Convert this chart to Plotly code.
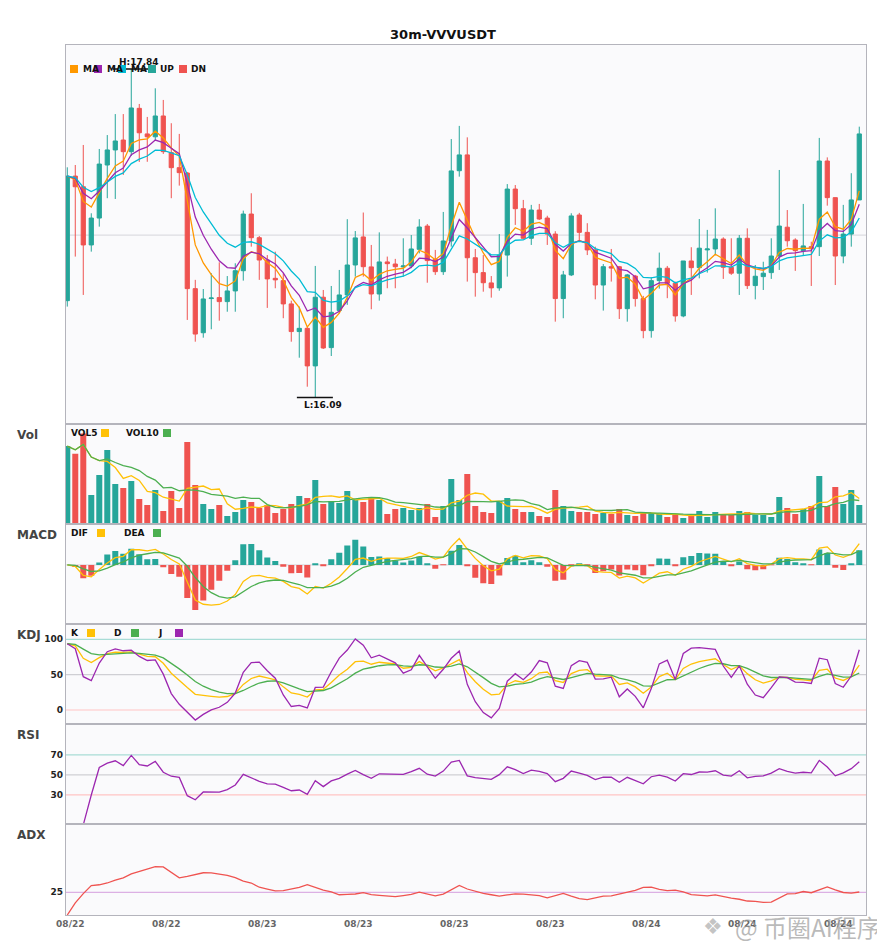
import pandas as pd
import plotly.graph_objects as go
from plotly.subplots import make_subplots

symbol = "VVVUSDT"
interval = "30m"
start_time = "2025-08-22 12:00"

opens = [16.597, 17.250, 17.194, 16.889, 17.030, 17.308, 17.387, 17.439, 17.378, 17.605,
         17.471, 17.456, 17.565, 17.373, 17.294, 17.266, 16.660, 16.429, 16.608, 16.613,
         16.592, 16.648, 16.754, 17.051, 16.927, 16.810, 16.714, 16.702, 16.580, 16.435,
         16.452, 16.255, 16.615, 16.351, 16.545, 16.627, 16.784, 16.931, 16.774, 16.632,
         16.800, 16.789, 16.774, 16.779, 16.866, 16.988, 16.814, 16.749, 16.910, 17.278,
         17.361, 16.822, 16.744, 16.690, 16.664, 16.836, 17.182, 17.079, 16.924, 17.072,
         17.030, 16.946, 16.608, 16.732, 17.046, 16.955, 16.863, 16.679, 16.775, 16.775,
         16.555, 16.726, 16.608, 16.440, 16.702, 16.767, 16.688, 16.517, 16.805, 16.770,
         16.863, 16.868, 16.920, 16.772, 16.741, 16.924, 16.676, 16.723, 16.744, 16.831,
         16.982, 16.915, 16.859, 16.880, 16.880, 17.329, 17.137, 16.831, 16.946, 17.125]
highs = [17.296, 17.308, 17.413, 17.055, 17.392, 17.465, 17.575, 17.575, 17.811, 17.628,
         17.560, 17.710, 17.649, 17.527, 17.471, 17.271, 16.706, 16.658, 16.741, 16.798,
         16.726, 16.793, 17.069, 17.160, 16.936, 16.836, 16.854, 16.741, 16.597, 16.566,
         16.461, 16.779, 16.653, 16.674, 16.758, 17.024, 16.962, 17.059, 16.889, 16.955,
         16.828, 16.816, 16.924, 16.941, 17.024, 16.999, 16.863, 17.062, 17.444, 17.513,
         17.453, 16.868, 16.836, 16.726, 16.946, 17.208, 17.203, 17.125, 17.099, 17.104,
         17.042, 16.961, 16.753, 17.055, 17.057, 17.003, 16.880, 16.789, 16.868, 16.779,
         16.737, 16.732, 16.622, 16.720, 16.849, 16.779, 16.697, 16.805, 16.877, 17.025,
         16.968, 17.081, 16.929, 16.924, 16.941, 16.976, 16.784, 16.801, 16.924, 17.282,
         17.072, 16.924, 17.104, 16.906, 17.450, 17.348, 17.137, 17.099, 17.265, 17.509]
lows = [16.566, 16.828, 16.627, 16.854, 16.985, 17.134, 17.130, 17.256, 17.355, 17.324,
        17.325, 17.439, 17.366, 17.134, 17.200, 16.496, 16.382, 16.403, 16.447, 16.492,
        16.539, 16.539, 16.702, 16.880, 16.706, 16.559, 16.662, 16.505, 16.382, 16.298,
        16.146, 16.090, 16.344, 16.307, 16.531, 16.575, 16.723, 16.723, 16.552, 16.597,
        16.662, 16.662, 16.723, 16.767, 16.845, 16.691, 16.732, 16.732, 16.880, 17.247,
        16.697, 16.618, 16.644, 16.613, 16.649, 16.723, 16.994, 16.919, 16.889, 17.020,
        16.889, 16.487, 16.505, 16.726, 16.915, 16.836, 16.604, 16.545, 16.697, 16.501,
        16.487, 16.566, 16.400, 16.403, 16.660, 16.610, 16.487, 16.510, 16.627, 16.714,
        16.744, 16.836, 16.711, 16.732, 16.627, 16.658, 16.604, 16.653, 16.711, 16.758,
        16.880, 16.753, 16.836, 16.674, 16.831, 17.095, 16.679, 16.793, 16.880, 17.125]
closes = [17.250, 17.194, 16.889, 17.030, 17.313, 17.387, 17.434, 17.378, 17.607, 17.477,
          17.456, 17.565, 17.378, 17.294, 17.268, 16.660, 16.422, 16.606, 16.611, 16.592,
          16.648, 16.754, 17.051, 16.927, 16.810, 16.711, 16.706, 16.580, 16.435, 16.452,
          16.255, 16.615, 16.349, 16.536, 16.627, 16.784, 16.926, 16.775, 16.632, 16.800,
          16.791, 16.775, 16.779, 16.868, 16.983, 16.807, 16.749, 16.910, 17.277, 17.361,
          16.822, 16.744, 16.691, 16.664, 16.836, 17.182, 17.079, 16.924, 17.072, 17.025,
          16.946, 16.608, 16.732, 17.041, 16.955, 16.863, 16.679, 16.775, 16.768, 16.555,
          16.732, 16.608, 16.440, 16.702, 16.767, 16.688, 16.517, 16.805, 16.770, 16.872,
          16.868, 16.920, 16.772, 16.741, 16.924, 16.676, 16.725, 16.741, 16.831, 16.988,
          16.911, 16.859, 16.884, 16.869, 17.329, 17.137, 16.831, 16.946, 17.125, 17.471]
# volume in K
volumes = [78.3, 70.7, 91.0, 29.3, 49.3, 74.3, 40.3, 36.3, 43.3, 25.3,
           19.3, 34.3, 13.3, 33.3, 16.3, 82.3, 39.3, 20.3, 15.3, 19.3,
           8.3, 12.3, 24.3, 22.3, 16.3, 19.3, 11.3, 15.3, 20.3, 28.3,
           26.3, 44.3, 20.3, 23.3, 21.3, 33.3, 24.3, 22.3, 26.3, 24.3,
           10.3, 15.3, 16.3, 14.3, 16.3, 20.3, 7.3, 18.3, 45.3, 24.3,
           50.3, 18.3, 12.3, 11.3, 23.3, 26.3, 15.3, 12.3, 12.3, 8.3,
           7.3, 34.3, 18.3, 13.3, 12.3, 12.3, 10.3, 11.3, 10.3, 15.3,
           9.3, 8.3, 12.3, 11.3, 10.3, 7.3, 10.3, 6.3, 9.3, 13.3,
           7.3, 12.3, 9.3, 9.3, 13.3, 12.3, 9.3, 9.3, 7.3, 27.3,
           16.3, 10.3, 15.3, 18.3, 48.3, 18.3, 37.3, 20.3, 34.3, 19.3]
hl_labels = ["H:17.84", "L:16.09"]

UP = "#26a69a"
DN = "#ef5350"
YEL = "#ffc107"
GRN = "#4caf50"
PUR = "#9c27b0"
ORG = "#ff9800"
CYN = "#00bcd4"
FRAME = "#b4b4bc"

df = pd.DataFrame(dict(open=opens, high=highs, low=lows, close=closes, vol=volumes))
df["time"] = pd.date_range(start_time, periods=len(df), freq="30min")
idx = list(range(len(df)))
c = df["close"]

# indicators
ma5 = c.ewm(span=5, adjust=False).mean()
ma8 = c.ewm(span=8, adjust=False).mean()
ma13 = c.ewm(span=13, adjust=False).mean()

vol5 = df.vol.rolling(5, min_periods=1).mean()
vol10 = df.vol.rolling(10, min_periods=1).mean()

# MACD(6, 13, 5)
dif = c.ewm(span=6, adjust=False).mean() - c.ewm(span=13, adjust=False).mean()
dea = dif.ewm(span=5, adjust=False).mean()
hist = 2 * (dif - dea)

low9 = df.low.rolling(9, min_periods=1).min()
high9 = df.high.rolling(9, min_periods=1).max()
rsv = (c - low9) / (high9 - low9) * 100
k = rsv.ewm(com=2, adjust=False).mean()
d = k.ewm(com=2, adjust=False).mean()
j = 3 * k - 2 * d

delta = c.diff()
gain = delta.clip(lower=0).ewm(com=13).mean()
loss = (-delta.clip(upper=0)).ewm(com=13).mean()
rsi = 100 * gain / (gain + loss)

up_move = df.high.diff()
down_move = -df.low.diff()
plus_dm = up_move.where((up_move > down_move) & (up_move > 0), 0.0)
minus_dm = down_move.where((down_move > up_move) & (down_move > 0), 0.0)
prev_c = c.shift()
tr = pd.concat([df.high - df.low, (df.high - prev_c).abs(), (df.low - prev_c).abs()], axis=1).max(axis=1)
atr = tr.ewm(span=14, adjust=False).mean()
pdi = 100 * plus_dm.ewm(span=14, adjust=False).mean() / atr
mdi = 100 * minus_dm.ewm(span=14, adjust=False).mean() / atr
dx = (100 * (pdi - mdi).abs() / (pdi + mdi)).fillna(0)
adx = dx.ewm(span=14, adjust=False).mean()

bar_cols = [UP if cl >= op else DN for op, cl in zip(opens, closes)]
hist_cols = [UP if h >= 0 else DN for h in hist]

fig = make_subplots(rows=6, cols=1, shared_xaxes=True, vertical_spacing=0,
                    row_heights=[379.3, 100, 100, 100, 100, 90.7])

fig.add_trace(go.Candlestick(
    x=idx, open=df.open, high=df.high, low=df.low, close=df.close,
    increasing=dict(line=dict(color=UP, width=1), fillcolor=UP),
    decreasing=dict(line=dict(color=DN, width=1), fillcolor=DN),
    whiskerwidth=0), row=1, col=1)
for s, col in [(ma5, ORG), (ma8, PUR), (ma13, CYN)]:
    fig.add_trace(go.Scatter(x=idx, y=s, mode="lines", line=dict(color=col, width=1.3)), row=1, col=1)

fig.add_trace(go.Bar(x=idx, y=df.vol, marker_color=bar_cols, marker_line_width=0, width=0.75), row=2, col=1)
fig.add_trace(go.Scatter(x=idx, y=vol5, mode="lines", line=dict(color=YEL, width=1.3)), row=2, col=1)
fig.add_trace(go.Scatter(x=idx, y=vol10, mode="lines", line=dict(color=GRN, width=1.3)), row=2, col=1)

fig.add_trace(go.Bar(x=idx, y=hist, marker_color=hist_cols, marker_line_width=0, width=0.75), row=3, col=1)
fig.add_trace(go.Scatter(x=idx, y=dif, mode="lines", line=dict(color=YEL, width=1.3)), row=3, col=1)
fig.add_trace(go.Scatter(x=idx, y=dea, mode="lines", line=dict(color=GRN, width=1.3)), row=3, col=1)

for s, col in [(k, YEL), (d, GRN), (j, PUR)]:
    fig.add_trace(go.Scatter(x=idx, y=s, mode="lines", line=dict(color=col, width=1.3)), row=4, col=1)

fig.add_trace(go.Scatter(x=idx, y=rsi, mode="lines", line=dict(color=PUR, width=1.3)), row=5, col=1)
fig.add_trace(go.Scatter(x=idx, y=adx, mode="lines", line=dict(color=DN, width=1.3)), row=6, col=1)

# reference lines
ref_lines = [(1, 16.941, "#dcdce2"), (3, 0, "#dcdce2"),
             (4, 100, "#a8dcd6"), (4, 50, "#cfcfd4"), (4, 0, "#ffc4c4"),
             (5, 70, "#a8dcd6"), (5, 50, "#cfcfd4"), (5, 30, "#ffc4c4"),
             (6, 25, "#dcb0e4")]
for r, yv, col in ref_lines:
    fig.add_hline(y=yv, row=r, col=1, line=dict(color=col, width=1.2), layer="below")

# high / low markers
hi_i = int(df.high.idxmax())
lo_i = int(df.low.idxmin())
for i, yv, txt, anchor, shift in [(hi_i, highs[hi_i], hl_labels[0], "bottom", 0),
                                  (lo_i, lows[lo_i], hl_labels[1], "top", -1)]:
    fig.add_shape(type="line", x0=i - 2.3, x1=i + 2.2, y0=yv, y1=yv, xref="x", yref="y",
                  line=dict(color="#111", width=1.5))
    fig.add_annotation(x=i + 0.95, y=yv, xref="x", yref="y", text=txt, showarrow=False,
                       xanchor="center", yanchor=anchor, yshift=shift,
                       font=dict(size=9, color="#111", family="DejaVu Sans", weight="bold"))


def px_x(px):
    return (px - 66) / 800


def px_y(py):
    return (915 - py) / 870


def box(x0, yc, col):
    fig.add_shape(type="rect", xref="paper", yref="paper", x0=px_x(x0), x1=px_x(x0 + 8),
                  y0=px_y(yc + 4), y1=px_y(yc - 4), fillcolor=col, line_width=0, layer="above")


def label(x0, yc, txt, size=9, color="#111"):
    fig.add_annotation(xref="paper", yref="paper", x=px_x(x0), y=px_y(yc), text=txt,
                       showarrow=False, xanchor="left", yanchor="middle",
                       font=dict(size=size, color=color, family="DejaVu Sans", weight="bold"))


# legends
for bx, col, tx, txt in [(70, ORG, 81, "MA"), (94, PUR, 105, "MA"), (118, CYN, 129, "MA"),
                         (148, UP, 158, "UP"), (179, DN, 189, "DN")]:
    label(tx, 69, txt)
    box(bx, 69, col)
for tx, txt, bx, col, yc in [(69, "VOL5", 101, YEL, 433), (124, "VOL10", 163, GRN, 433),
                             (69, "DIF", 97, YEL, 533), (122, "DEA", 153, GRN, 533),
                             (69, "K", 87, YEL, 633), (112, "D", 131, GRN, 633),
                             (156, "J", 175, PUR, 633)]:
    label(tx, yc, txt)
    box(bx, yc, col)

for txt, yc in [("Vol", 435), ("MACD", 535), ("KDJ", 635), ("RSI", 735), ("ADX", 835)]:
    label(15, yc, txt, size=12, color="#444")

# watermark
fig.add_annotation(xref="paper", yref="paper", x=px_x(713), y=px_y(926), text="❖",
                   showarrow=False, xanchor="center", yanchor="middle",
                   font=dict(size=22, color="rgba(170,170,170,0.7)"))
fig.add_annotation(xref="paper", yref="paper", x=px_x(733), y=px_y(926), text="@ 币圈AI程序",
                   showarrow=False, xanchor="left", yanchor="middle",
                   font=dict(size=24, color="rgba(155,155,155,0.7)", family="Noto Sans CJK SC"))

tick_idx = list(range(0, len(df), 12))
tick_txt = [df.time[i].strftime("%m/%d") for i in tick_idx]

axis_font = dict(size=9, color="#222", family="DejaVu Sans", weight="bold")
fig.update_xaxes(range=[-0.16, 99.84], showgrid=False, zeroline=False, showline=True, mirror=True,
                 linecolor=FRAME, linewidth=1.2, tickvals=tick_idx, ticktext=tick_txt,
                 showticklabels=False, ticks="", rangeslider_visible=False)
fig.update_xaxes(showticklabels=True, ticklabelshift=3,
                 tickfont=dict(size=9, color="#666", family="DejaVu Sans", weight="bold"),
                 row=6, col=1)
fig.update_yaxes(showgrid=False, zeroline=False, showline=True, mirror=True, linecolor=FRAME,
                 linewidth=1.2, showticklabels=False, ticks="", tickfont=axis_font)

m_lo = min(hist.min(), dif.min(), dea.min())
m_hi = max(hist.max(), dif.max(), dea.max())
m_pad = 0.2 * (m_hi - m_lo)

fig.update_yaxes(range=[15.949, 17.937], row=1, col=1)
fig.update_yaxes(range=[0, df.vol.max() * 1.1], row=2, col=1)
fig.update_yaxes(range=[m_lo - m_pad, m_hi + m_pad], row=3, col=1)
fig.update_yaxes(range=[-20.2, 121.2], tickvals=[0, 50, 100], showticklabels=True, row=4, col=1)
fig.update_yaxes(range=[0.5, 100.5], tickvals=[30, 50, 70], showticklabels=True, row=5, col=1)
fig.update_yaxes(range=[0, 100], tickvals=[25], showticklabels=True, row=6, col=1)

# page body adds an 8px margin, so the figure is sized to sit inside the window
fig.update_layout(
    width=877, height=942,
    margin=dict(l=58, r=19, t=37, b=35),
    paper_bgcolor="white", plot_bgcolor="#fafafc",
    showlegend=False, boxgap=0.25,
    title=dict(text=f"{interval}-{symbol}", x=(443 - 8) / 877, xref="container",
               y=1 - 26 / 942, yanchor="middle",
               font=dict(size=13, color="#111", family="DejaVu Sans", weight="bold")),
    font=dict(family="DejaVu Sans"),
)

fig.write_html("out.html")
